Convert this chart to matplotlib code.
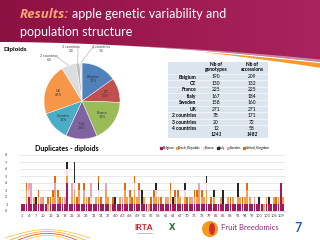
import matplotlib
matplotlib.use('Agg')
import matplotlib.pyplot as plt
import numpy as np
from matplotlib.patches import Polygon, Rectangle, Circle, Ellipse
from matplotlib.lines import Line2D
from matplotlib.colors import LinearSegmentedColormap

# ---------------- data ----------------
pie_labels = ['Belgium', 'CZ', 'France', 'Italy', 'Sweden', 'UK',
              '2 countries', '3 countries', '4 countries']
genotypes = [190, 130, 225, 167, 158, 271, 78, 20, 12]
accessions = [209, 132, 225, 184, 160, 271, 171, 72, 58]
total_genotypes = 1241
total_accessions = 1482
pie_pct = ['15%', '10%', '18%', '13%', '13%', '22%', '6%', '2%', '1%']

series_names = ['Belgium', 'Czech_Republic', 'France', 'Italy', 'Sweden', 'United_Kingdom']
belgium = [1,1,1,2,1,1,1,1,1,1, 1,0,1,1,1,1,1,1,1,4, 1,1,1,1,1,1,1,1,1,1,
           1,1,1,1,1,1,1,0,1,1, 1,1,1,1,1,1,1,1,1,1, 1,1,1,0,1,1,1,1,1,1,
           1,1,1,1,1,1,1,1,1,1, 1,1,1,1,1,1,1,1,1,1, 1,1,1,1,1,1,1,1,1,1,
           1,1,1,1,1,1,1,1,1,1, 1,0,1,1,1,1,1,1,4,1]
czech = [0,0,2,0,0,1,0,1,0,1, 0,1,0,1,2,1,0,1,0,1, 0,1,2,0,2,0,1,1,0,0,
         0,1,1,0,0,2,1,1,0,0, 0,1,0,2,1,1,0,2,1,1, 0,1,0,1,0,1,1,1,0,0,
         1,0,2,0,1,1,1,0,1,0, 1,0,1,1,2,1,1,2,0,0, 1,0,0,1,0,0,1,0,1,0,
         1,1,0,1,2,1,0,0,0,0, 0,1,1,0,0,1,0,1,0,1]
france = [0,0,0,1,0,0,0,0,0,0, 0,0,0,0,0,0,0,0,0,1, 0,0,1,0,0,0,0,0,0,1,
          0,0,1,0,0,0,0,0,0,0, 0,0,0,0,0,0,0,1,0,0, 0,0,0,0,0,0,1,0,0,0,
          0,0,0,0,0,0,0,0,1,0, 0,0,0,0,0,0,0,1,0,0, 0,0,0,0,0,0,0,0,0,0,
          0,0,0,0,0,0,0,0,0,0, 0,0,0,0,0,0,0,0,0,0]
italy = [0,0,0,0,0,0,1,0,0,0, 0,0,0,0,0,0,0,0,0,1, 0,0,3,0,0,0,0,0,0,0,
         0,0,1,0,0,0,0,0,0,1, 0,0,0,0,0,0,0,0,0,0, 2,0,0,0,0,0,1,0,0,0,
         0,0,0,1,0,0,0,0,1,0, 0,0,0,0,0,0,0,1,0,0, 1,0,0,0,2,0,0,0,0,0,
         2,0,0,0,0,0,0,0,0,1, 0,0,0,1,0,0,0,0,0,0]
sweden = [0,0,0,1,3,0,0,0,1,0, 0,0,0,0,1,0,0,0,1,0, 0,2,0,0,0,0,1,0,0,2,
          0,0,0,0,0,1,0,0,0,0, 0,0,1,0,0,0,0,0,0,1, 0,0,0,0,0,0,0,0,0,0,
          0,1,0,0,0,0,0,0,0,0, 0,1,0,0,1,0,0,0,0,0, 0,0,0,0,0,0,0,0,0,0,
          0,0,0,0,0,0,0,1,0,0, 0,0,0,0,0,0,0,0,0,0]
uk = [0,0,1,0,0,0,0,1,0,0, 0,1,1,1,1,1,1,0,0,0, 0,0,0,1,1,0,1,0,1,0,
      0,0,1,1,0,0,0,0,1,0, 0,0,0,1,0,1,1,1,0,1, 0,0,0,0,1,1,0,0,1,0,
      0,0,1,0,1,1,0,0,0,1, 0,0,1,1,0,1,0,0,0,1, 0,0,0,0,0,0,0,1,0,0,
      0,0,1,0,1,0,0,0,0,0, 0,0,0,0,0,0,1,0,0,0]
bar_series = [belgium, czech, france, italy, sweden, uk]
bar_colors = ['#A3195B', '#F4A04E', '#F8D7E3', '#262626', '#E6A3BD', '#E26A10']
xticks = list(range(1, 110, 3))
yticks = list(range(0, 9))

W, H = 320, 240
fig = plt.figure(figsize=(3.2, 2.4), dpi=100)
fig.patch.set_facecolor('white')
bg = fig.add_axes([0, 0, 1, 1])
bg.set_xlim(0, W); bg.set_ylim(H, 0); bg.axis('off')
FONT = 'Lato'

# ---------------- header ----------------
xs = np.linspace(0, W, 200)
ybot = 42 + 20 * (xs / W) ** 1.8
poly = Polygon(np.vstack([[[0, 0], [W, 0]], np.column_stack([xs[::-1], ybot[::-1]])]),
               closed=True, facecolor='none', edgecolor='none')
bg.add_patch(poly)
grad = np.linspace(0, 1, 256).reshape(1, -1)
cm = LinearSegmentedColormap.from_list('hdr', ['#8C1143', '#9E1A50', '#A8245E'])
im = bg.imshow(grad, extent=(0, W, 64, 0), cmap=cm, aspect='auto', zorder=1)
im.set_clip_path(poly)
bg.set_xlim(0, W); bg.set_ylim(H, 0)
mask = xs > 200
th = np.clip((xs - 200) / 120, 0, 1) * 4.5
bg.fill_between(xs[mask], ybot[mask] + 0.8, ybot[mask] + 0.8 + th[mask], color='#F39A2B', zorder=2, lw=0)
bg.fill_between(xs, ybot - 2.5 * np.clip((xs - 120) / 200, 0, 1), ybot, color='#E9C6D2', zorder=2, lw=0, alpha=0.6)

fig.canvas.draw()
r = fig.canvas.get_renderer()
t1 = bg.text(20, 14, 'Results:', color='#F7A27A', fontstyle='italic', fontweight='bold',
             fontsize=9.5, va='center', ha='left', family='Open Sans', zorder=3)
ext = t1.get_window_extent(renderer=r)
x_end = ext.x1 / fig.dpi * 100
bg.text(x_end + 3, 14, 'apple genetic variability and', color='white', fontsize=9,
        va='center', ha='left', family=FONT, zorder=3)
bg.text(20, 32, 'population structure', color='white', fontsize=9,
        va='center', ha='left', family=FONT, zorder=3)

# ---------------- pie ----------------
bg.text(3, 50, 'Diploids', fontsize=4.6, fontweight='bold', va='center', ha='left', family=FONT, zorder=3)
cx, cy, rad = 82, 101, 40
axp = fig.add_axes([(cx - rad) / W, 1 - (cy + rad) / H, 2 * rad / W, 2 * rad / H])
pie_colors = ['#4F81BD', '#C0504D', '#9BBB59', '#8064A2', '#4BACC6', '#F79646',
              '#DDDDDD', '#BDBDBD', '#E6E6E6']
wedges, _ = axp.pie(genotypes, colors=pie_colors, startangle=90, counterclock=False,
                    radius=0.95, wedgeprops=dict(edgecolor='white', linewidth=0.3))
axp.set_xlim(-1, 1); axp.set_ylim(-1, 1); axp.set_aspect('auto'); axp.axis('off')
total = sum(genotypes)
ang0 = 90
mids = []
cum = 0
for v in genotypes:
    mids.append(ang0 - 360 * (cum + v / 2) / total)
    cum += v
for i in range(6):
    a = np.deg2rad(mids[i])
    axp.text(0.62 * np.cos(a), 0.62 * np.sin(a), f'{pie_labels[i]}\n{pie_pct[i]}', fontsize=2.6,
             ha='center', va='center', color='#333333', family=FONT, linespacing=1.0)
outer = {6: (49, 58), 7: (71, 49), 8: (101, 49)}
for i, (tx, ty) in outer.items():
    bg.text(tx, ty, f'{pie_labels[i]}\n{pie_pct[i]}', fontsize=2.6, ha='center', va='center',
            color='#444444', family=FONT, linespacing=1.0, zorder=3)
for i, (tx, ty) in outer.items():
    a = np.deg2rad(mids[i])
    px = cx + rad * 0.95 * np.cos(a); py = cy - rad * 0.95 * np.sin(a)
    if i == 6:
        bg.plot([px, 57, 55], [py, 57, 57], color='#888888', lw=0.3, zorder=3)
    elif i == 7:
        bg.plot([px, 78, 76], [py, 47, 47], color='#888888', lw=0.3, zorder=3)
    else:
        bg.plot([px, 92, 95], [py, 48, 48], color='#888888', lw=0.3, zorder=3)

# ---------------- table ----------------
tx0, tx1, ty0, ty1 = 168, 268, 62, 138
bg.add_patch(Rectangle((tx0, ty0), tx1 - tx0, ty1 - ty0, facecolor='#DCE5EE', edgecolor='none', zorder=2))
col1, col2, rowx = 216, 252, 196
fs = 3.5
bg.text(col1, 67, 'Nb of\ngenotypes', fontsize=fs, fontweight='bold', ha='center', va='center',
        family=FONT, linespacing=1.1, zorder=3)
bg.text(col2, 67, 'Nb of\naccessions', fontsize=fs, fontweight='bold', ha='center', va='center',
        family=FONT, linespacing=1.1, zorder=3)
row_y = np.linspace(77, 128.5, 9)
for y, lab, g, a in zip(row_y, pie_labels, genotypes, accessions):
    bg.text(rowx, y, lab, fontsize=fs, fontweight='bold', ha='right', va='center', family=FONT, zorder=3)
    bg.text(col1, y, str(g), fontsize=fs, ha='center', va='center', family=FONT, zorder=3)
    bg.text(col2, y, str(a), fontsize=fs, ha='center', va='center', family=FONT, zorder=3)
    bg.plot([tx0, tx1], [y - 3.2, y - 3.2], color='white', lw=0.4, zorder=2.5)
bg.text(col1, 134.8, str(total_genotypes), fontsize=fs, fontweight='bold', fontstyle='italic',
        ha='center', va='center', family=FONT, zorder=3)
bg.text(col2, 134.8, str(total_accessions), fontsize=fs, fontweight='bold', fontstyle='italic',
        ha='center', va='center', family=FONT, zorder=3)

# ---------------- bars ----------------
bg.text(35, 148, 'Duplicates - diploids', fontsize=5, fontweight='bold', ha='left', va='center',
        family=FONT, zorder=3)
axb = fig.add_axes([20 / W, 1 - 211 / H, 265 / W, 56 / H])
xpos = np.arange(1, len(belgium) + 1)
bottom = np.zeros(len(xpos))
handles = []
for name, vals, col in zip(series_names, bar_series, bar_colors):
    vals = np.array(vals)
    axb.bar(xpos, vals, bottom=bottom, width=0.72, color=col, linewidth=0, zorder=2)
    bottom += vals
    handles.append(Line2D([], [], marker='s', ls='none', color=col, markersize=1.4, label=name))
axb.set_xlim(0.3, len(xpos) + 0.7)
axb.set_ylim(0, 8)
axb.set_yticks(yticks)
axb.set_xticks(xticks)
axb.tick_params(axis='both', length=0, labelsize=2.8, labelcolor='#444444')
axb.tick_params(axis='x', pad=2.5)
axb.tick_params(axis='y', pad=9)
for lab in axb.get_xticklabels() + axb.get_yticklabels():
    lab.set_family(FONT)
axb.grid(axis='y', color='#D9D9D9', lw=0.4, zorder=0)
for s in ['top', 'right', 'left']:
    axb.spines[s].set_visible(False)
axb.spines['bottom'].set_color('#BFBFBF'); axb.spines['bottom'].set_linewidth(0.4)
axb.set_facecolor('none')
fig.legend(handles=handles, ncol=6, loc='center left', bbox_to_anchor=(157 / W, 1 - 148 / H),
           frameon=False, handlelength=0.5, handletextpad=0.25, columnspacing=0.6,
           prop={'family': FONT, 'size': 2.3})

# ---------------- footer logos ----------------
tt = np.linspace(0, 1, 50)
for k, c in enumerate(['#F2C230', '#E8A020', '#D9302A', '#F0C040']):
    bg.plot(5 + 85 * tt, 240 - 14 * np.sin(np.pi * tt) * (0.6 + 0.15 * k) + 4 * k - 2,
            color=c, lw=0.5, zorder=3)
bg.text(144, 228, 'IRTA', fontsize=6, fontweight='bold', color='#D01E2E', ha='center', va='center',
        family=FONT, zorder=3)
bg.plot([137, 152], [233, 233], color='#888888', lw=0.4, zorder=3)
bg.text(172, 228, 'X', fontsize=6, fontweight='bold', color='#2E6B3A', ha='center', va='center', zorder=3)
bg.add_patch(Circle((210, 229), 8, facecolor='#F39A1E', edgecolor='none', zorder=3))
bg.add_patch(Ellipse((212, 229), 6, 12, facecolor='#D0302A', edgecolor='none', zorder=3))
bg.text(221, 227, 'Fruit Breedomics', fontsize=5.5, color='#8A2A7A', ha='left', va='center',
        family=FONT, zorder=3)
bg.text(298, 228, '7', fontsize=9, fontweight='bold', color='#2060B0', ha='center', va='center',
        family=FONT, zorder=3)

fig.savefig('out.png', dpi=100, facecolor='white')
